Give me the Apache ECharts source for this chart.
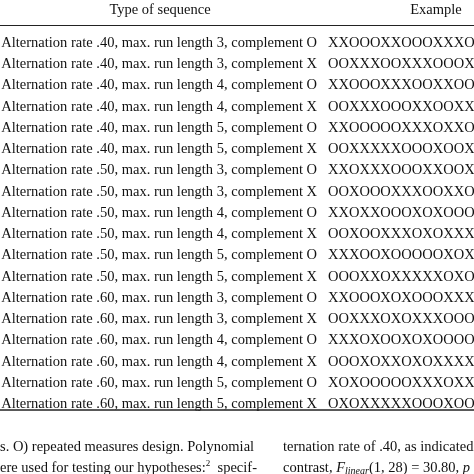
<!DOCTYPE html>
<html><head><meta charset="utf-8">
<script src="https://cdn.jsdelivr.net/npm/echarts@6/dist/echarts.min.js"></script>
<style>html,body{margin:0;padding:0;background:#fff}#c{width:474px;height:474px}</style>
</head><body><div id="c"></div>
<script>
const headers = ["Type of sequence", "Example"];
const rates = [".40",".40",".40",".40",".40",".40",".50",".50",".50",".50",".50",".50",".60",".60",".60",".60",".60",".60"];
const runLengths = [3,3,4,4,5,5,3,3,4,4,5,5,3,3,4,4,5,5];
const complements = ["O","X","O","X","O","X","O","X","O","X","O","X","O","X","O","X","O","X"];
const examples = ["XXOOOXXOOOXXXOO","OOXXXOOXXXOOOXX","XXOOOXXXOOXXOOO","OOXXXOOOXXOOXXX","XXOOOOOXXXOXXOO","OOXXXXXOOOXOOXX","XXOXXXOOOXXOOXX","OOXOOOXXXOOXXOO","XXOXXOOOXOXOOOX","OOXOOXXXOXOXXXO","XXXOOXOOOOOXOXX","OOOXXOXXXXXOXOO","XXOOOXOXOOOXXXO","OOXXXOXOXXXOOOX","XXXOXOOXOXOOOOX","OOOXOXXOXOXXXXO","XOXOOOOOXXXOXXO","OXOXXXXXOOOXOOX"];
const footLeft = ["s. O) repeated measures design. Polynomial","ere used for testing our hypotheses:{sup|2}  specif-"];
const footRight = ["ternation rate of .40, as indicated by the","contrast, {i|F}{sub|linear}(1, 28) = 30.80, {i|p}"];

const font = '"Liberation Serif", "DejaVu Serif", serif';
const fs = 14.5, y0 = 43, dy = 21.25;
const els = [];
const T = (x, y, text, align) => els.push({type:'text', x, y, style:{text, fill:'#111', font: fs+'px '+font, textAlign:align, textVerticalAlign:'middle', rich:{sup:{fontSize:9,verticalAlign:'top',fontFamily:font,padding:[0,0,8,0]},sub:{fontSize:10,fontStyle:'italic',fontFamily:font,padding:[6,0,0,0]},i:{fontStyle:'italic',fontSize:fs,fontFamily:font}}}});
T(160, 10, headers[0], 'center');
T(436, 10, headers[1], 'center');
els.push({type:'line', shape:{x1:0,y1:25.5,x2:474,y2:25.5}, style:{stroke:'#222', lineWidth:1}});
rates.forEach((r,i)=>{
  const y = y0 + i*dy;
  T(317, y, 'Alternation rate ' + r + ', max. run length ' + runLengths[i] + ', complement ' + complements[i], 'right');
  T(328, y, examples[i], 'left');
});
els.push({type:'line', shape:{x1:0,y1:410,x2:474,y2:410}, style:{stroke:'#222', lineWidth:1.6}});
footLeft.forEach((t,i)=>T(0, 447 + i*21, t, 'left'));
footRight.forEach((t,i)=>T(283, 447 + i*21, t, 'left'));

const chart = echarts.init(document.getElementById('c'));
chart.setOption({animation:false, backgroundColor:'#fff', graphic:els});
</script></body></html>
